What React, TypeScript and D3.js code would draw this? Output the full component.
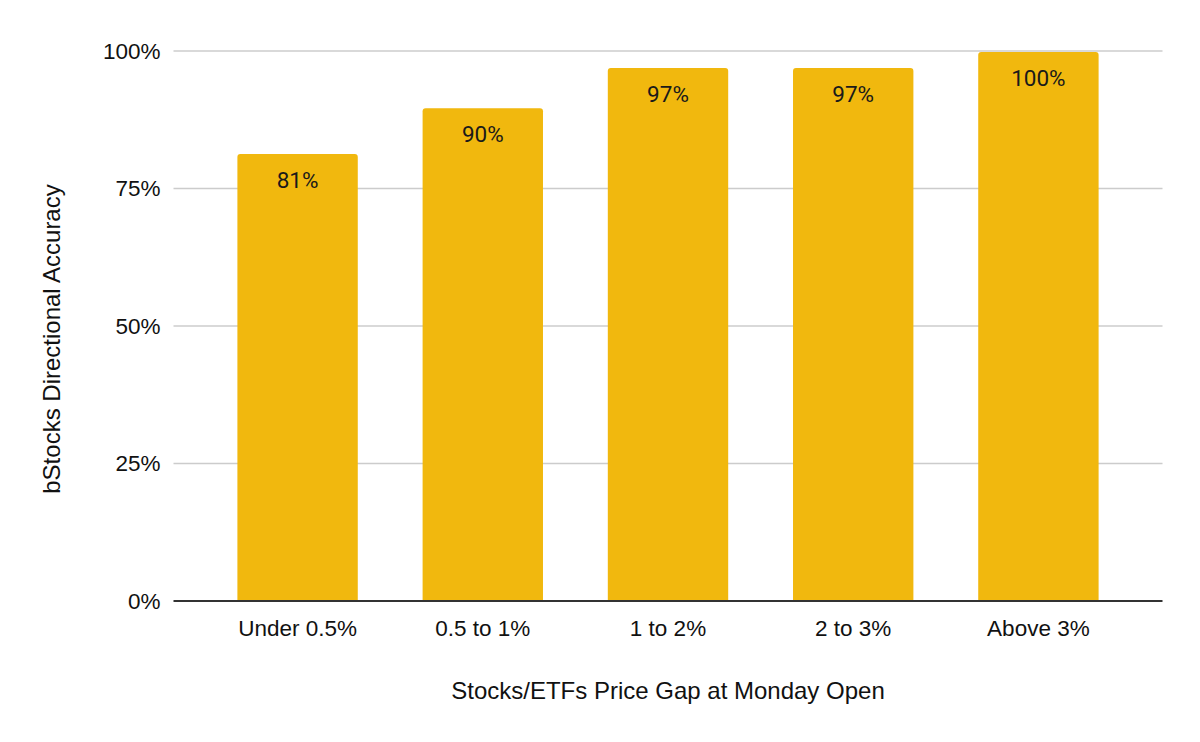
import React from "react";
import * as d3 from "d3";

const categories: string[] = ["Under 0.5%", "0.5 to 1%", "1 to 2%", "2 to 3%", "Above 3%"];
const accuracy: number[] = [0.8127, 0.896, 0.969, 0.969, 0.998];
const yTicks: number[] = [0, 0.25, 0.5, 0.75, 1];
const xTitle = "Stocks/ETFs Price Gap at Monday Open";
const yTitle = "bStocks Directional Accuracy";

const W = 1200;
const H = 742;
const left = 173.5;
const right = 1162.5;
const top = 51;
const bottom = 601;
const BAR = "#F1B80E";
const AXIS_FONT = "'Liberation Sans', Arial, sans-serif";
const LABEL_FONT = "Roboto, 'Noto Sans', sans-serif";

function topRoundedRect(x: number, y: number, w: number, h: number, r: number): string {
  const p = d3.path();
  p.moveTo(x, y + h);
  p.lineTo(x, y + r);
  p.quadraticCurveTo(x, y, x + r, y);
  p.lineTo(x + w - r, y);
  p.quadraticCurveTo(x + w, y, x + w, y + r);
  p.lineTo(x + w, y + h);
  p.closePath();
  return p.toString();
}

export default function App() {
  const x = d3
    .scaleBand<string>()
    .domain(categories)
    .range([left, right])
    .paddingInner(0.35)
    .paddingOuter(0.345);
  const y = d3.scaleLinear().domain([0, 1]).range([bottom, top]);
  const pct = d3.format(".0%");

  return (
    <svg
      width={W}
      height={H}
      viewBox={`0 0 ${W} ${H}`}
      style={{ position: "absolute", left: 0, top: 0, background: "#fff" }}
    >
      <rect x={0} y={0} width={W} height={H} fill="#fff" />
      {yTicks.map((t) => (
        <g key={t}>
          {t > 0 && (
            <line x1={left} x2={right} y1={y(t)} y2={y(t)} stroke="#cccccc" strokeWidth={1.3} />
          )}
          <text
            x={160.5}
            y={y(t)}
            dy="0.35em"
            textAnchor="end"
            fontFamily={AXIS_FONT}
            fontSize={22.5}
            fill="#111"
          >
            {pct(t)}
          </text>
        </g>
      ))}
      {categories.map((c, i) => {
        const bx = x(c)!;
        const bw = x.bandwidth();
        const by = y(accuracy[i]);
        return (
          <g key={c}>
            <path d={topRoundedRect(bx, by, bw, bottom - by, 3)} fill={BAR} />
            <text
              x={bx + bw / 2}
              y={by + 33.5}
              textAnchor="middle"
              fontFamily={LABEL_FONT}
              fontSize={22.5}
              fill="#1a1a1a"
            >
              {pct(accuracy[i])}
            </text>
            <text
              x={bx + bw / 2}
              y={636}
              textAnchor="middle"
              fontFamily={AXIS_FONT}
              fontSize={22.5}
              fill="#111"
            >
              {c}
            </text>
          </g>
        );
      })}
      <line x1={left} x2={right} y1={bottom} y2={bottom} stroke="#333" strokeWidth={2} />
      <text
        x={(left + right) / 2}
        y={698.5}
        textAnchor="middle"
        fontFamily={AXIS_FONT}
        fontSize={24}
        fill="#111"
      >
        {xTitle}
      </text>
      <text
        transform={`translate(59.5, ${(top + bottom) / 2 + 13}) rotate(-90)`}
        textAnchor="middle"
        fontFamily={AXIS_FONT}
        fontSize={24}
        fill="#111"
      >
        {yTitle}
      </text>
    </svg>
  );
}
